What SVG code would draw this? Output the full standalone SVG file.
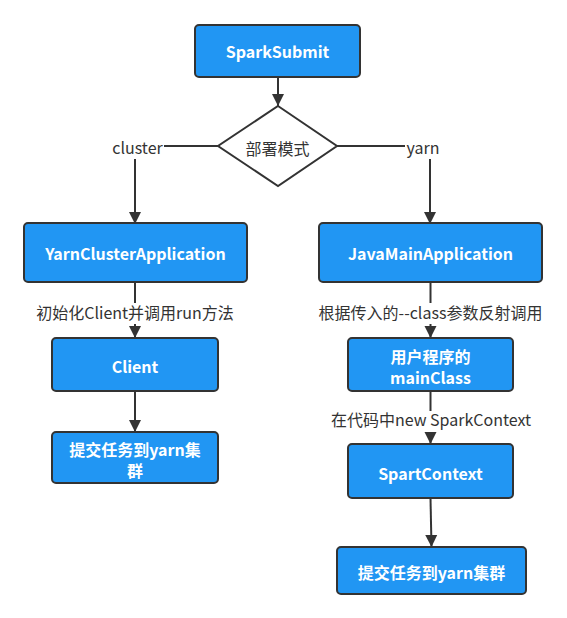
<svg xmlns="http://www.w3.org/2000/svg" width="567" height="618" viewBox="0 0 567 618">
<defs>
<marker id="ah" markerWidth="12" markerHeight="16" refX="12" refY="6" orient="auto" markerUnits="userSpaceOnUse" viewBox="0 0 12 12">
<path d="M0,0 L12,6 L0,12 Z" fill="#333"/>
</marker>
<style>
.node rect{fill:#2196F3;stroke:#333;stroke-width:2}
.node text{fill:#fff;font-family:"Noto Sans CJK SC","Noto Sans",sans-serif;font-size:16px;font-weight:bold;text-anchor:middle}
.edge{fill:none;stroke:#333;stroke-width:2}
.lbl{fill:#333;font-family:"Noto Sans CJK SC","Noto Sans",sans-serif;font-size:16px;text-anchor:middle}
.bg{fill:#fff}
</style>
</defs>
<rect width="567" height="618" fill="#fff"/>
<g id="connectors">
<path class="edge" d="M278,77 L278,106" marker-end="url(#ah)"/>
<path class="edge" d="M218,146 L135,146 L135,224" marker-end="url(#ah)"/>
<path class="edge" d="M337,146 L430,146 L430,224" marker-end="url(#ah)"/>
<path class="edge" d="M135,282 L135,338" marker-end="url(#ah)"/>
<path class="edge" d="M135,391 L135,432" marker-end="url(#ah)"/>
<path class="edge" d="M430.5,282 L430.5,338" marker-end="url(#ah)"/>
<path class="edge" d="M430.5,391 L430.5,444" marker-end="url(#ah)"/>
<path class="edge" d="M430.5,498 L431.5,547" marker-end="url(#ah)"/>
<rect class="bg" x="111" y="138" width="53" height="21"/>
<text class="lbl" x="137.5" y="154">cluster</text>
<rect class="bg" x="405" y="138" width="36" height="21"/>
<text class="lbl" x="423" y="154">yarn</text>
<rect class="bg" x="36" y="303" width="198" height="21"/>
<text class="lbl" x="135" y="319">初始化Client并调用run方法</text>
<rect class="bg" x="318" y="303" width="225" height="21"/>
<text class="lbl" x="430.5" y="319">根据传入的--class参数反射调用</text>
<rect class="bg" x="331" y="411" width="200" height="21"/>
<text class="lbl" x="431" y="426">在代码中new SparkContext</text>
</g>
<g id="n-sparksubmit" class="node"><rect x="195" y="25" width="165" height="52" rx="4"/><text x="277.5" y="58">SparkSubmit</text></g>
<g id="n-mode"><path d="M278,106 L337,146 L278,186 L218,146 Z" fill="#fff" stroke="#333" stroke-width="2"/><text class="lbl" x="277.5" y="155">部署模式</text></g>
<g id="n-yca" class="node"><rect x="24" y="223" width="223" height="59" rx="4"/><text x="135.5" y="260">YarnClusterApplication</text></g>
<g id="n-client" class="node"><rect x="52" y="338" width="166" height="53" rx="4"/><text x="135" y="373">Client</text></g>
<g id="n-submit-l" class="node"><rect x="52" y="432" width="166" height="51" rx="4"/><text x="135" y="455.5">提交任务到yarn集</text><text x="135" y="476.5">群</text></g>
<g id="n-jma" class="node"><rect x="319" y="223" width="223" height="59" rx="4"/><text x="430.5" y="260">JavaMainApplication</text></g>
<g id="n-main" class="node"><rect x="348" y="338" width="165" height="53" rx="4"/><text x="430.5" y="362.5">用户程序的</text><text x="430.5" y="383.5">mainClass</text></g>
<g id="n-sc" class="node"><rect x="348" y="444" width="165" height="54" rx="4"/><text x="430.5" y="480">SpartContext</text></g>
<g id="n-submit-r" class="node"><rect x="337" y="547" width="189" height="47" rx="4"/><text x="431.5" y="579">提交任务到yarn集群</text></g>
</svg>
